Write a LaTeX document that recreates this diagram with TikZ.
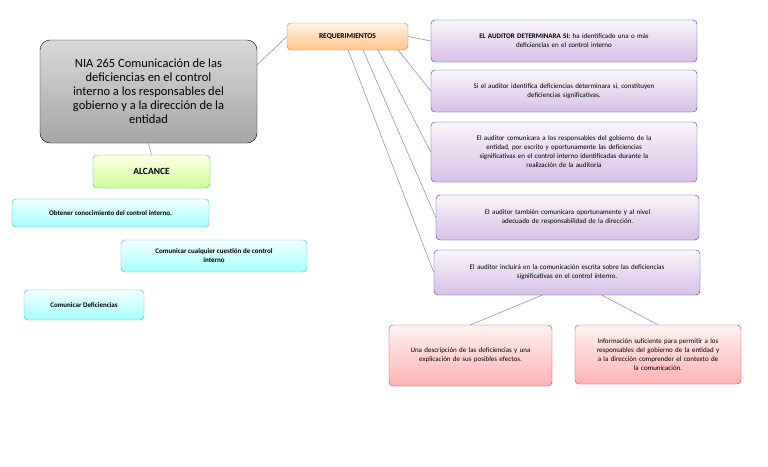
\documentclass[tikz,border=0pt]{standalone}
\usepackage{fontspec}
\setmainfont{Carlito}
\begin{document}
\begin{tikzpicture}[x=1pt,y=-1pt,
 bx/.style={draw=#1!60!gray,rounded corners=4pt,align=center,inner sep=2pt,font=\fontsize{7}{9}\selectfont},
 ln/.style={draw=blue!40!gray!70,line width=0.5pt}]
\useasboundingbox (0,0) rectangle (768,466);
\node[bx=gray,top color=gray!30,bottom color=gray!70,minimum width=217,minimum height=103,font=\fontsize{12.5}{14}\selectfont,rounded corners=10pt,draw=black] (main) at (148.5,91.5) {NIA 265 Comunicación de las\\deficiencias en el control\\interno a los responsables del\\gobierno y a la dirección de la\\entidad};
\node[bx=green,top color=green!5!yellow!10,bottom color=green!50!yellow!40,minimum width=117,minimum height=33,font=\bfseries\fontsize{9.5}{10}\selectfont] (alc) at (151.5,171.5) {ALCANCE};
\node[bx=cyan,top color=cyan!5,bottom color=cyan!35,minimum width=197,minimum height=28,anchor=center] (o1) at (110.5,213) {\textbf{Obtener conocimiento del control interno.}};
\node[bx=cyan,top color=cyan!5,bottom color=cyan!35,minimum width=186,minimum height=32] (o2) at (214,256) {\textbf{Comunicar cualquier cuestión de control}\\\textbf{interno}};
\node[bx=cyan,top color=cyan!5,bottom color=cyan!35,minimum width=120,minimum height=30] (o3) at (84,305) {\textbf{Comunicar Deficiencias}};
\node[bx=orange,top color=orange!10,bottom color=orange!45,minimum width=121,minimum height=27,font=\bfseries\fontsize{7.5}{9}\selectfont] (req) at (347.5,36.5) {REQUERIMIENTOS};
\tikzset{pb/.style={bx=blue,top color=blue!4!violet!4,bottom color=blue!25!violet!25,text width=250,minimum width=266}}
\node[pb,minimum height=42] (p1) at (564,41) {\textbf{EL AUDITOR DETERMINARA SI:} ha identificado una o más\\deficiencias en el control interno};
\node[pb,minimum height=42] (p2) at (564,91) {Si el auditor identifica deficiencias determinara si, constituyen\\deficiencias significativas.};
\node[pb,minimum height=60] (p3) at (564,152) {El auditor comunicara a los responsables del gobierno de la\\entidad, por escrito y oportunamente las deficiencias\\significativas en el control interno identificadas durante la\\realización de la auditoria};
\node[pb,minimum height=45,minimum width=263] (p4) at (567.5,217.5) {El auditor también comunicara oportunamente y al nivel\\adecuado de responsabilidad de la dirección.};
\node[pb,minimum height=45] (p5) at (567,272.5) {El auditor incluirá en la comunicación escrita sobre las deficiencias\\significativas en el control interno.};
\tikzset{rb/.style={bx=red,top color=red!5,bottom color=red!30,text width=155}}
\node[rb,minimum width=163,minimum height=61] (r1) at (470.5,355.5) {Una descripción de las deficiencias y una\\explicación de sus posibles efectos.};
\node[rb,minimum width=166,minimum height=59] (r2) at (658,354.5) {Información suficiente para permitir a los\\responsables del gobierno de la entidad y\\a la dirección comprender el contexto de\\la comunicación.};
\draw[ln] (main.north east)++(0,25) -- (req.west);
\draw[ln] (main.south) -- (alc.north);
\draw[ln] (req.east) -- (p1.west);
\draw[ln] ([xshift=-10]req.south east) -- (p2.west);
\draw[ln] ([xshift=-30]req.south east) -- (p3.west);
\draw[ln] ([xshift=-45]req.south east) -- (p4.west);
\draw[ln] ([xshift=-60]req.south east) -- (p5.west);
\draw[ln] ([xshift=-25]p5.south) -- (r1.north);
\draw[ln] ([xshift=35]p5.south) -- (r2.north);
\end{tikzpicture}
\end{document}
